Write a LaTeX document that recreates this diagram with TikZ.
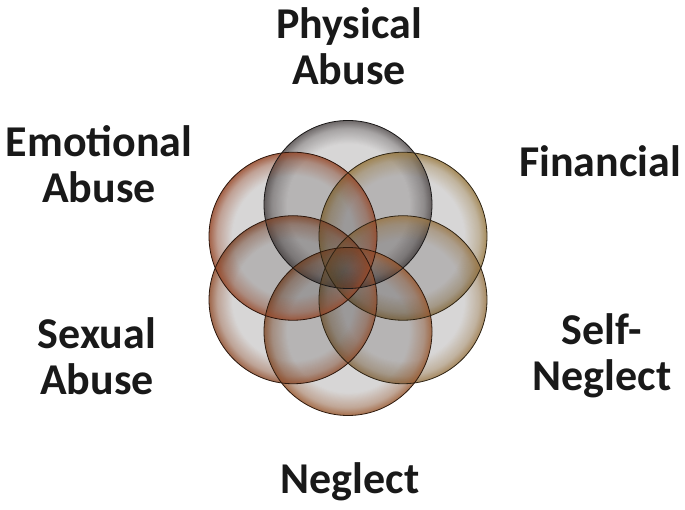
\documentclass[tikz,border=0pt]{standalone}
\usepackage{fontspec}
\setmainfont{Carlito}
\usetikzlibrary{fadings}

\definecolor{petalgray}{HTML}{221C1C}
\definecolor{rimP}{HTML}{5A5454}
\definecolor{rimE}{HTML}{9A4A2A}
\definecolor{rimF}{HTML}{9C7C42}
\definecolor{rimS}{HTML}{9C7846}
\definecolor{rimN}{HTML}{9C5A30}
\definecolor{rimX}{HTML}{94502E}
\pgfdeclareradialshading{rimmask}{\pgfpointorigin}{color(0bp)=(black);
  color(18bp)=(black); color(22.5bp)=(black!55!white); color(25bp)=(white);
  color(50bp)=(white)}
\pgfdeclarefading{rimfade}{\pgfuseshading{rimmask}}

\begin{document}
\begin{tikzpicture}[x=1pt,y=1pt,
  cat/.style={font=\fontsize{44}{46}\selectfont\bfseries,align=center,
              inner sep=0pt,anchor=base,text=black!90},
  petal/.style={fill=petalgray,fill opacity=0.18},
  rim/.style={path fading=rimfade,fit fading=true,fill opacity=0.85}]
  \useasboundingbox (0,0) rectangle (685,510);
  % Six overlapping circles round one centre.
  \begin{scope}[shift={(348,242)}]
    \foreach \n/\a in {phys/90,fin/30,self/-30,negl/-90,sex/-150,emo/150}
      \coordinate (c-\n) at (\a:63.5);
  \end{scope}
  \foreach \n/\c in {phys/rimP,fin/rimF,self/rimS,negl/rimN,sex/rimX,emo/rimE}{
    \fill[petal] (c-\n) circle (84);
    \fill[\c,rim] (c-\n) circle (84);
  }
  \foreach \n/\c in {phys/rimP,fin/rimF,self/rimS,negl/rimN,sex/rimX,emo/rimE}
    \draw[\c!30!black,line width=0.8pt] (c-\n) circle (84);

  % base = baseline of the last line
  \node[cat] (physical) at (349,425) {Physical\\Abuse};
  \node[cat] (emotional) at (99,307) {Emotional\\Abuse};
  \node[cat] (financial) at (600,333) {Financial};
  \node[cat] (sexual) at (97,115) {Sexual\\Abuse};
  \node[cat] (selfneglect) at (602,119) {Self-\\Neglect};
  \node[cat] (neglect) at (350,16) {Neglect};
\end{tikzpicture}
\end{document}
